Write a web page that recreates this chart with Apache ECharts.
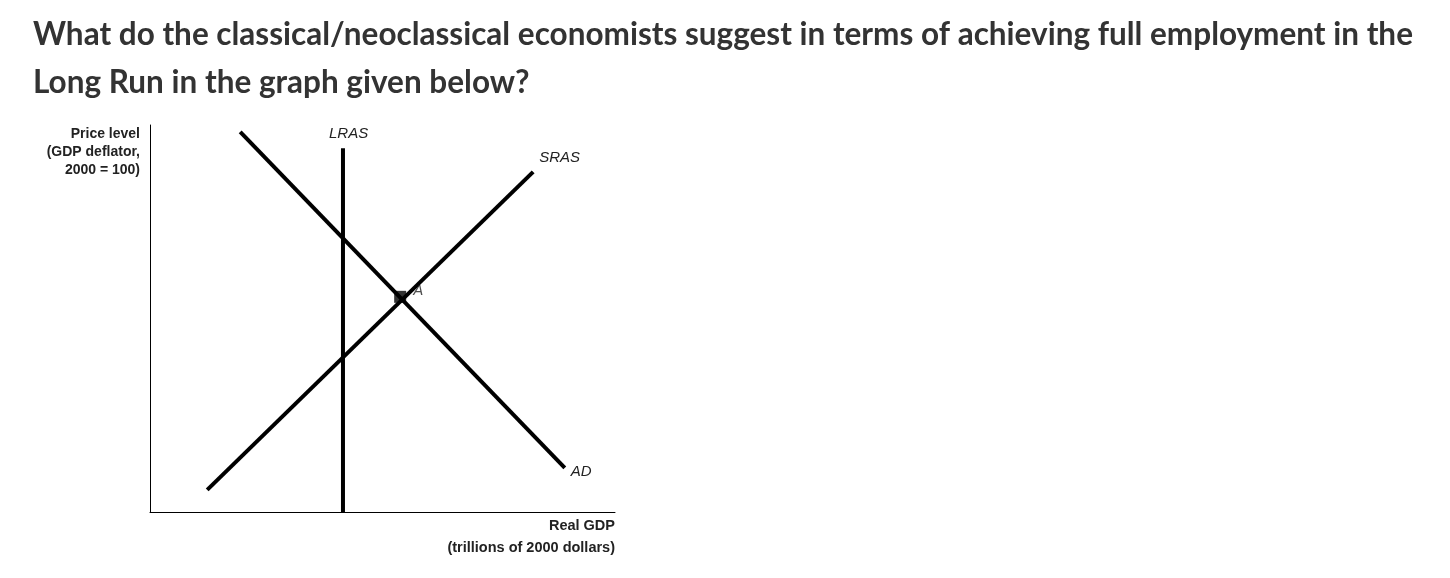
<!DOCTYPE html>
<html><head><meta charset="utf-8">
<script src="https://cdn.jsdelivr.net/npm/echarts@6/dist/echarts.min.js"></script>
<style>html,body{margin:0;background:#fff}#c{width:1450px;height:578px}</style>
</head><body><div id="c"></div>
<script>
const titleLines = ["What do the classical/neoclassical economists suggest in terms of achieving full employment in the", "Long Run in the graph given below?"];
const lras = [[41.5, 0], [41.5, 94]];
const sras = [[12.3, 5.7], [82.4, 87.9]];
const ad = [[19.4, 98.2], [89.2, 11.4]];
const pointA = [[53.8, 55.6]];
const yLabel = "Price level\n(GDP deflator,\n2000 = 100)";
const xLabel = "Real GDP\n(trillions of 2000 dollars)";

const chart = echarts.init(document.getElementById('c'));
const lineS = (d, lab, off) => ({
  type: 'line', data: d, symbol: 'none', silent: true, z: 2,
  lineStyle: {color: '#000', width: 4},
  endLabel: {show: true, formatter: lab, fontStyle: 'italic', fontFamily: 'Liberation Sans', fontSize: 15, color: '#222', offset: off}
});
chart.setOption({
  animation: false,
  title: {text: titleLines.join('\n'), left: 28, top: 6,
    textStyle: {fontFamily: 'Lato', fontWeight: 'bold', fontSize: 31.5, color: '#333', lineHeight: 48}},
  grid: {left: 150, right: 835, top: 125, bottom: 66},
  xAxis: {type: 'value', min: 0, max: 100, axisLine: {lineStyle: {color: '#000', width: 1}}, axisTick: {show: false}, axisLabel: {show: false}, splitLine: {show: false}},
  yAxis: {type: 'value', min: 0, max: 100, axisLine: {show: true, lineStyle: {color: '#000', width: 1}}, axisTick: {show: false}, axisLabel: {show: false}, splitLine: {show: false}},
  graphic: [
    {type: 'text', style: {text: yLabel, x: 140, y: 125, fontFamily: 'Liberation Sans', fontWeight: 'bold', fontSize: 14, lineHeight: 18, fill: '#222', align: 'right'}},
    {type: 'text', style: {text: xLabel, x: 615, y: 515, fontFamily: 'Liberation Sans', fontWeight: 'bold', fontSize: 14.5, lineHeight: 22, fill: '#222', align: 'right'}}
  ],
  series: [
    lineS(lras, 'LRAS', [-22, -14]),
    lineS(sras, 'SRAS', [-2, -14]),
    lineS(ad, 'AD', [-2, 4]),
    {type: 'scatter', data: pointA, symbol: 'rect', symbolSize: 12, z: 5, itemStyle: {color: '#000'}, silent: true,
      label: {show: true, formatter: 'A', position: 'right', offset: [2, -6], fontStyle: 'italic', fontFamily: 'Liberation Sans', fontSize: 15, color: '#222'}}
  ]
});
</script></body></html>
